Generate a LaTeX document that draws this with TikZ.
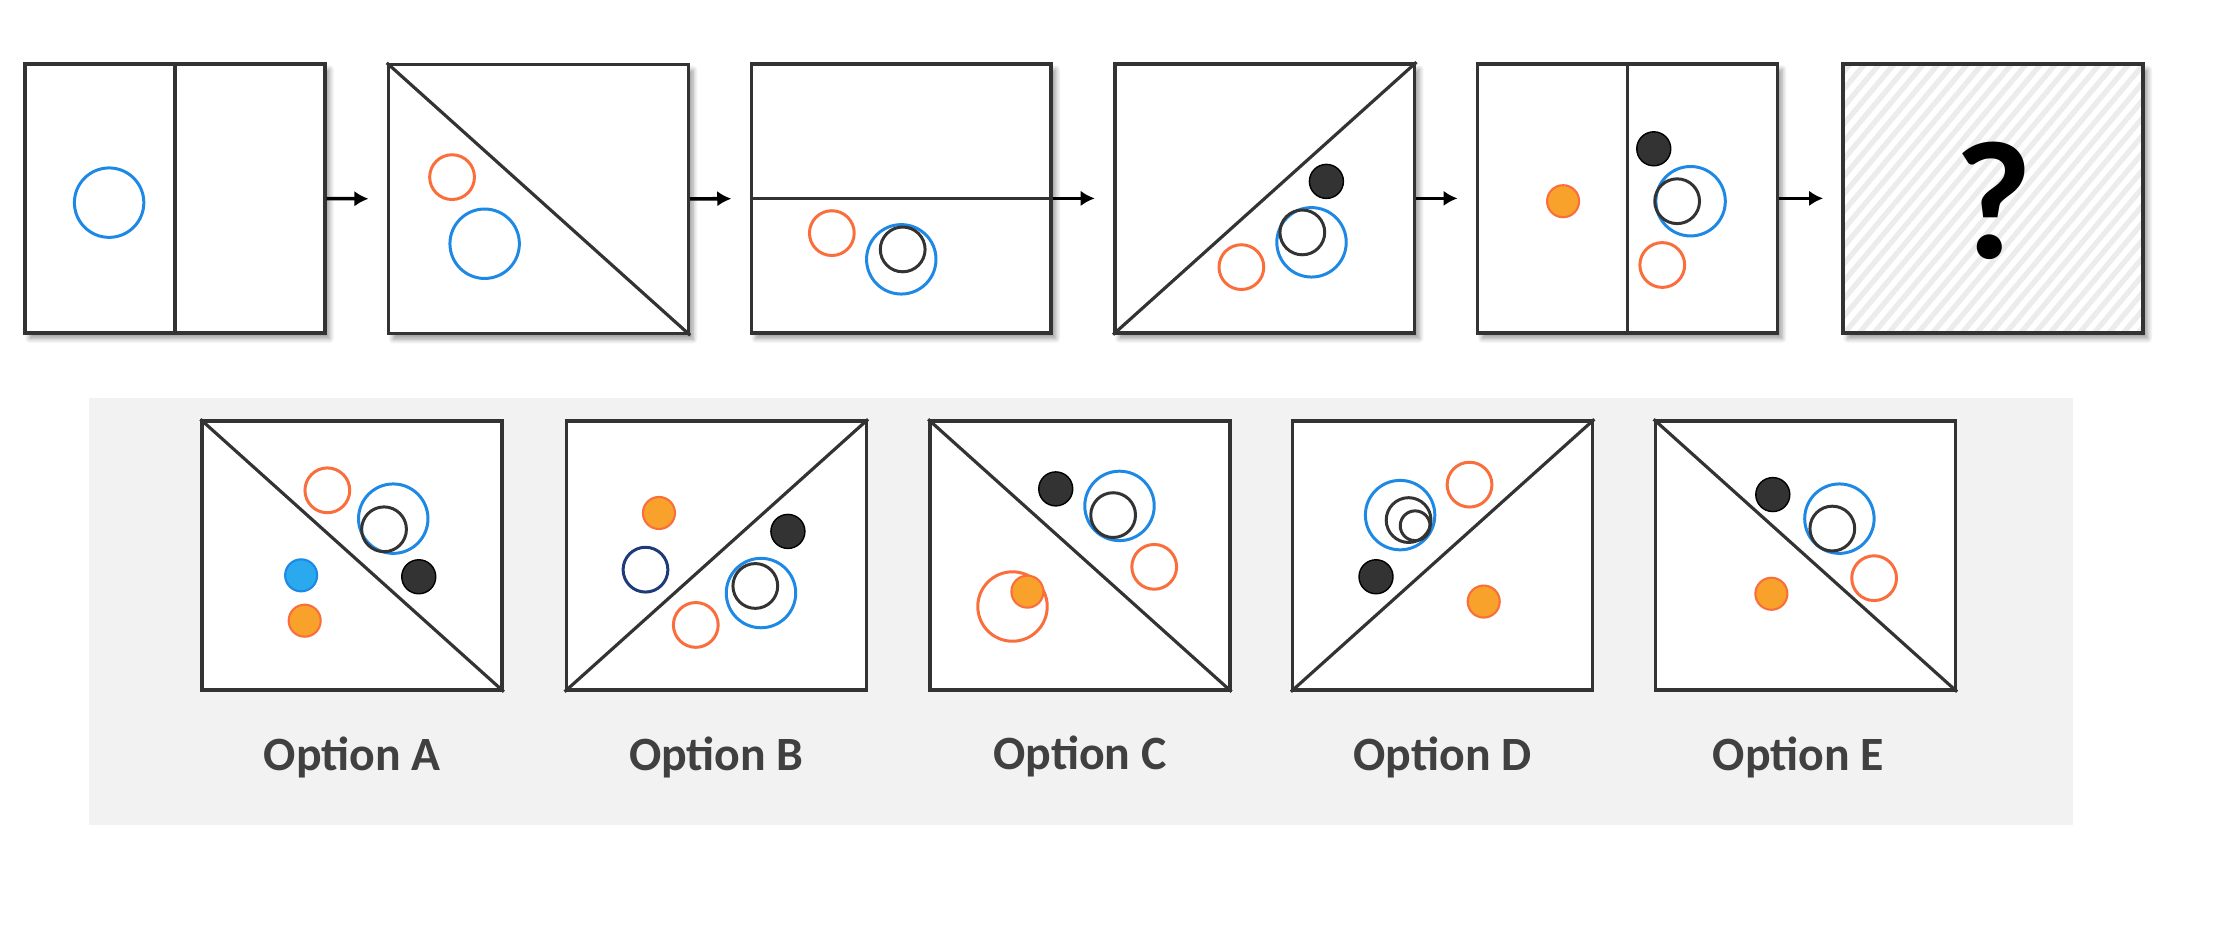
\documentclass[tikz,border=0pt]{standalone}
\usepackage{fontspec}
\usepackage{xcolor}
\usepackage{tikz}
\usetikzlibrary{arrows.meta,positioning,calc,shadows.blur,patterns.meta}
\newfontfamily\optfont{Carlito}
\definecolor{Ink}{RGB}{51,51,51}
\definecolor{RingBlue}{RGB}{30,136,229}
\definecolor{DotBlue}{RGB}{42,169,238}
\definecolor{RingOrange}{RGB}{250,110,60}
\definecolor{DotOrange}{RGB}{249,162,43}
\definecolor{RingNavy}{RGB}{31,58,120}
\definecolor{LabelGray}{RGB}{64,64,64}
\definecolor{BoxGray}{RGB}{242,242,242}
\definecolor{HatchGray}{RGB}{236,236,236}

\begin{document}
\begin{tikzpicture}[x=0.014171cm,y=-0.014171cm,>=Latex]
\tikzset{panel/.style={draw=Ink,line width=1pt,fill=white,minimum width=3cm,minimum height=2.69cm,inner sep=0pt},
  shade/.style={blur shadow={shadow blur steps=6,shadow xshift=1.3pt,shadow yshift=-1.6pt,shadow blur radius=1.4pt,shadow opacity=40}},
  hatch/.style={postaction={pattern={Lines[angle=50,distance=3.2pt,line width=1.5pt]},pattern color=HatchGray},
    postaction={draw=Ink,line width=1pt}},
  cut/.style={draw=Ink,line width=0.9pt},
  flow/.style={->,line width=1pt,shorten >=5.2pt,-{Latex[length=4pt,width=4.4pt]}},
  bring/.style={draw=RingBlue,line width=0.85pt},
  oring/.style={draw=RingOrange,line width=0.85pt},
  kring/.style={draw=Ink,line width=0.85pt},
  nring/.style={draw=RingNavy,line width=0.85pt},
  kdot/.style={fill=Ink},
  odot/.style={fill=DotOrange,draw=RingOrange,line width=0.6pt},
  ldot/.style={fill=DotBlue,draw=RingBlue,line width=0.6pt},
  optlabel/.style={font=\optfont\bfseries\fontsize{13.6}{16}\selectfont,text=LabelGray,anchor=base,inner sep=0pt}}
\useasboundingbox (0,0) rectangle (1568,663);

% sequence
\node[panel,shade] (s1) at (123.5,140) {};
\node[panel,shade] (s2) at (380,140.5) {};
\node[panel,shade] (s3) at (636,140) {};
\node[panel,shade] (s4) at (892.5,140) {};
\node[panel,shade] (s5) at (1148.5,140) {};
\node[panel,shade,hatch] (s6) at (1406.5,140) {};
\draw[cut] (s1.north) -- (s1.south);
\draw[cut] (s2.north west) -- (s2.south east);
\draw[cut] (s3.west) -- (s3.east);
\draw[cut] (s4.south west) -- (s4.north east);
\draw[cut] (s5.north) -- (s5.south);
\node[font=\optfont\bfseries\fontsize{48}{50}\selectfont] (qm) at (1407,142) {?};
\draw[flow] (s1) -- (s2);
\draw[flow] (s2) -- (s3);
\draw[flow] (s3) -- (s4);
\draw[flow] (s4) -- (s5);
\draw[flow] (s5) -- (s6);

\draw[bring] (77,143) circle[radius=24.5];
\draw[oring] (319,125) circle[radius=15.8];
\draw[bring] (342,172) circle[radius=24.5];
\draw[oring] (587,164.5) circle[radius=15.8];
\draw[bring] (636,183) circle[radius=24.5];
\draw[kring] (637,176) circle[radius=15.8];
\draw[kdot] (936,128) circle[radius=12];
\draw[bring] (925.5,171) circle[radius=24.5];
\draw[kring] (919,164) circle[radius=15.8];
\draw[oring] (876,188.5) circle[radius=15.8];
\draw[odot] (1103,142) circle[radius=11.3];
\draw[kdot] (1167,105) circle[radius=12];
\draw[bring] (1193,142) circle[radius=24.5];
\draw[kring] (1183.5,142) circle[radius=15.8];
\draw[oring] (1173,187) circle[radius=15.8];

% answer options
\fill[BoxGray] (63,281) rectangle (1463,582);
\node[panel] (oa) at (248.5,392) {};
\node[panel] (ob) at (505.5,392) {};
\node[panel] (oc) at (762,392) {};
\node[panel] (od) at (1018,392) {};
\node[panel] (oe) at (1274,392) {};
\draw[cut] (oa.north west) -- (oa.south east);
\draw[cut] (ob.south west) -- (ob.north east);
\draw[cut] (oc.north west) -- (oc.south east);
\draw[cut] (od.south west) -- (od.north east);
\draw[cut] (oe.north west) -- (oe.south east);
\node[optlabel] (la) at ([yshift=-22.4pt]oa.south) {Option A};
\node[optlabel] (lb) at ([yshift=-22.4pt]ob.south) {Option B};
\node[optlabel] (lc) at ([yshift=-22pt]oc.south) {Option C};
\node[optlabel] (ld) at ([yshift=-22.4pt]od.south) {Option D};
\node[optlabel] (le) at ([xshift=-2pt,yshift=-22.4pt]oe.south) {Option E};

\draw[oring] (231,346) circle[radius=15.8];
\draw[bring] (277.5,366) circle[radius=24.5];
\draw[kring] (271,373.5) circle[radius=15.8];
\draw[kdot] (295.5,407) circle[radius=12];
\draw[ldot] (212.5,406) circle[radius=11.3];
\draw[odot] (215,438) circle[radius=11.3];

\draw[odot] (465,362) circle[radius=11.3];
\draw[nring] (455.5,402) circle[radius=15.8];
\draw[kdot] (556,375) circle[radius=12];
\draw[bring] (537,418.5) circle[radius=24.5];
\draw[kring] (533,413.5) circle[radius=15.8];
\draw[oring] (491,441) circle[radius=15.8];

\draw[kdot] (745,345) circle[radius=12];
\draw[bring] (790,357) circle[radius=24.5];
\draw[kring] (785.5,363.5) circle[radius=15.8];
\draw[oring] (814.5,400) circle[radius=15.8];
\draw[oring] (714.5,428) circle[radius=24.5];
\draw[odot] (725,417.5) circle[radius=11.3];

\draw[oring] (1037,342) circle[radius=15.8];
\draw[bring] (988,363.5) circle[radius=24.5];
\draw[kring] (994,367) circle[radius=15.8];
\draw[kring] (998.6,371) circle[radius=10.5];
\draw[kdot] (971,407) circle[radius=12];
\draw[odot] (1047,424.5) circle[radius=11.3];

\draw[kdot] (1251,349) circle[radius=12];
\draw[bring] (1298,366) circle[radius=24.5];
\draw[kring] (1293,373) circle[radius=15.8];
\draw[oring] (1322.5,408) circle[radius=15.8];
\draw[odot] (1250,419) circle[radius=11.3];
\end{tikzpicture}
\end{document}
